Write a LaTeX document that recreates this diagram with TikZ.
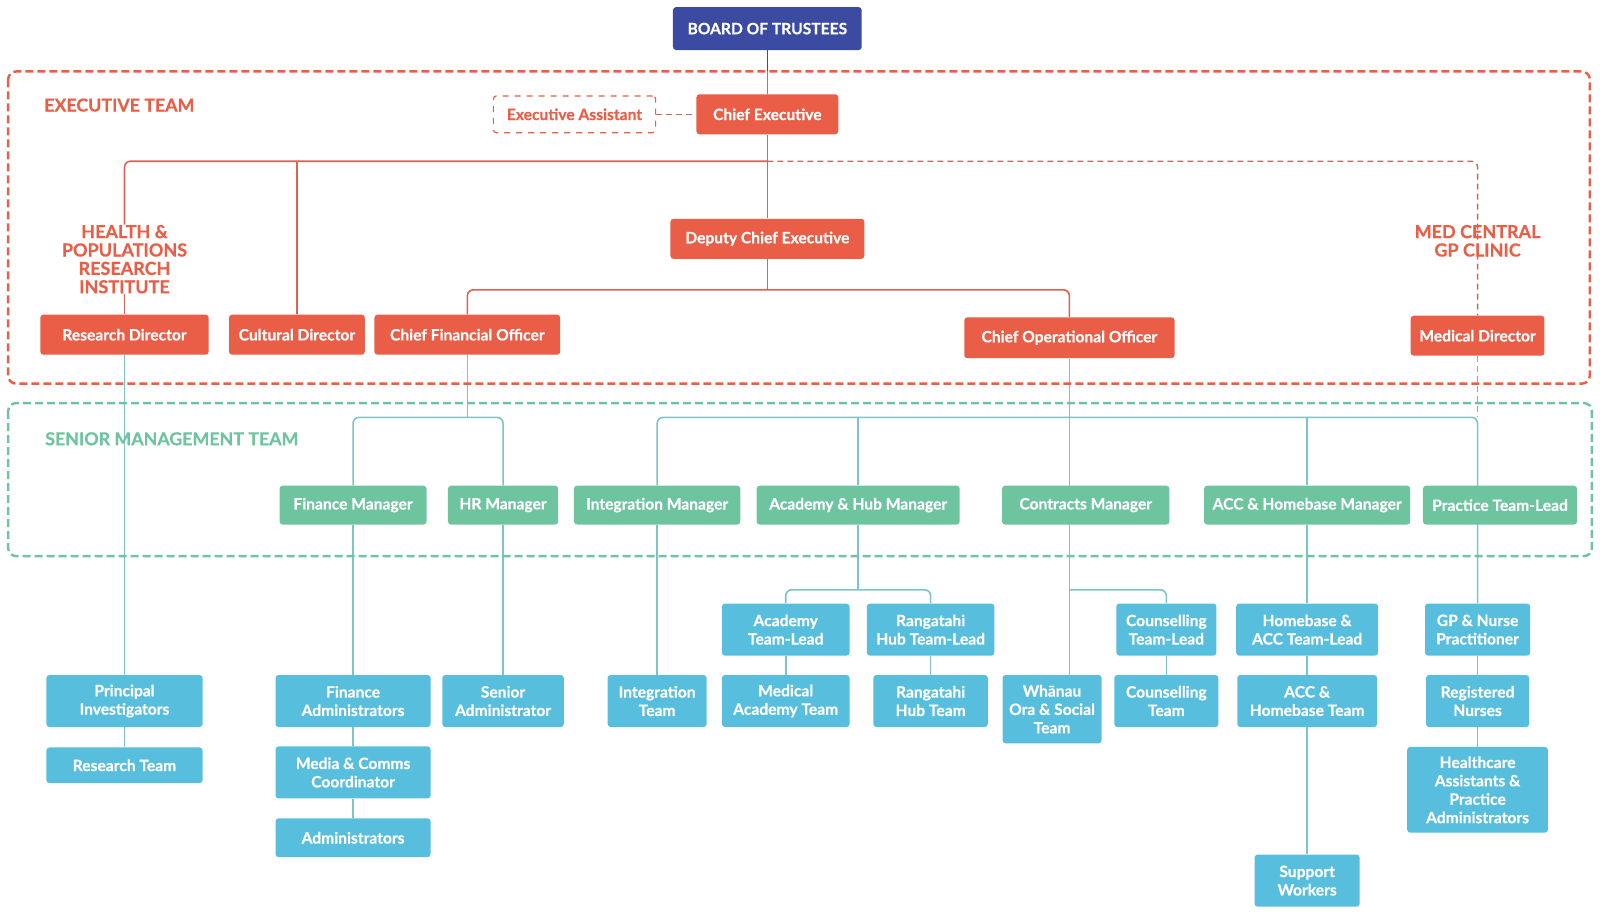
\documentclass[tikz,border=0pt]{standalone}
\usepackage{fontspec}
\setmainfont{Lato}[BoldFeatures={FakeBold=0.5}]
\usepackage{xcolor}
\usetikzlibrary{backgrounds}
\definecolor{trustblue}{HTML}{3B4BA2}
\definecolor{execred}{HTML}{EA5E47}
\definecolor{smtgreen}{HTML}{6EC49E}
\definecolor{staffblue}{HTML}{58BEDD}
\definecolor{redwire}{HTML}{DB6351}
\definecolor{tealwire}{HTML}{7CC5C4}
\tikzset{
  box/.style={rectangle, rounded corners=1.5pt, text=white, align=center,
    font=\fontsize{7.8}{9.2}\selectfont\bfseries, inner sep=0pt, minimum height=20pt},
  redbox/.style={box, fill=execred},
  greenbox/.style={box, fill=smtgreen, minimum height=19.4pt},
  bluebox/.style={box, fill=staffblue, minimum height=26pt},
  eabox/.style={box, fill=white, draw=execred, dashed, text=execred, line width=0.6pt},
  wd/.style={minimum width=#1*0.5102pt},
  ht/.style={minimum height=#1*0.5102pt},
  grouplbl/.style={font=\fontsize{8.9}{10}\selectfont\bfseries, inner sep=0pt, anchor=west},
  sitelbl/.style={font=\fontsize{9}{9.2}\selectfont\bfseries, inner sep=0pt, align=center, text=execred},
  execframe/.style={draw=execred, line width=1.2pt, dash pattern=on 4pt off 2pt, rounded corners=4pt},
  smtframe/.style={draw=smtgreen, line width=1.2pt, dash pattern=on 4pt off 2pt, rounded corners=4pt},
  execline/.style={draw=redwire, line width=0.8pt},
  tealline/.style={draw=tealwire, line width=0.8pt},
  dashline/.style={draw=redwire!80!gray, line width=0.7pt, dash pattern=on 3pt off 2pt}
}

\begin{document}
\begin{tikzpicture}[x=0.5102pt, y=-0.5102pt]
    \useasboundingbox (0,0) rectangle (1568,894);
    % group frames
    \draw[execframe] (8,70) rectangle (1558,376);
    \draw[smtframe] (8,395) rectangle (1560,545);
    \node (exlbl)[grouplbl, text=execred] at (43,103) {EXECUTIVE TEAM};
    \node (smtlbl)[grouplbl, text=smtgreen] at (44,430) {SENIOR MANAGEMENT TEAM};

    % executive team
    \node (board)[box, fill=trustblue, wd=185, ht=42] at (752,28) {BOARD OF TRUSTEES};
    \node (ea)[eabox, wd=159, ht=36] at (563,112) {Executive Assistant};
    \node (ce)[redbox, wd=139] at (752,112) {Chief Executive};
    \node (dce)[redbox, wd=190] at (752,234) {Deputy Chief Executive};
    \node (hpri)[sitelbl] at (122,254) {HEALTH \&\\POPULATIONS\\RESEARCH\\INSTITUTE};
    \node (mcgp)[sitelbl] at (1448,236) {MED CENTRAL\\GP CLINIC};
    \node (rd)[redbox, wd=165] at (122,328) {Research Director};
    \node (cd)[redbox, wd=133] at (291,328) {Cultural Director};
    \node (cfo)[redbox, wd=182] at (458,328) {Chief Financial Officer};
    \node (coo)[redbox, wd=206, ht=40] at (1048,331) {Chief Operational Officer};
    \node (md)[redbox, wd=131] at (1448,329) {Medical Director};

    % senior management team
    \node (fm)[greenbox, wd=144] at (346,495) {Finance Manager};
    \node (hrm)[greenbox, wd=108] at (493,495) {HR Manager};
    \node (im)[greenbox, wd=163] at (644,495) {Integration Manager};
    \node (ahm)[greenbox, wd=199] at (841,495) {Academy \& Hub Manager};
    \node (cm)[greenbox, wd=164] at (1064,495) {Contracts Manager};
    \node (acm)[greenbox, wd=202] at (1281,495) {ACC \& Homebase Manager};
    \node (ptl)[greenbox, wd=151] at (1470,495) {Practice Team-Lead};

    % staff
    \node (pi)[bluebox, wd=153] at (122,687) {Principal\\Investigators};
    \node (rt)[bluebox, wd=153, ht=35] at (122,750) {Research Team};
    \node (fa)[bluebox, wd=152] at (346,687) {Finance\\Administrators};
    \node (mcc)[bluebox, wd=152] at (346,757) {Media \& Comms\\Coordinator};
    \node (adm)[bluebox, wd=152, ht=38] at (346,821) {Administrators};
    \node (sa)[bluebox, wd=119] at (493,687) {Senior\\Administrator};
    \node (it)[bluebox, wd=97] at (644,687) {Integration\\Team};
    \node (atl)[bluebox, wd=125] at (770,617) {Academy\\Team-Lead};
    \node (rhtl)[bluebox, wd=125] at (912,617) {Rangatahi\\Hub Team-Lead};
    \node (mat)[bluebox, wd=125] at (770,687) {Medical\\Academy Team};
    \node (rht)[bluebox, wd=112] at (912,687) {Rangatahi\\Hub Team};
    \node (wost)[bluebox, wd=97, ht=67] at (1031,695) {Whānau\\Ora \& Social\\Team};
    \node (ctl)[bluebox, wd=98] at (1143,617) {Counselling\\Team-Lead};
    \node (ct)[bluebox, wd=102] at (1143,687) {Counselling\\Team};
    \node (hatl)[bluebox, wd=139] at (1281,617) {Homebase \&\\ACC Team-Lead};
    \node (aht)[bluebox, wd=137] at (1281,687) {ACC \&\\Homebase Team};
    \node (sw)[bluebox, wd=103] at (1281,863) {Support\\Workers};
    \node (gpnp)[bluebox, wd=103] at (1448,617) {GP \& Nurse\\Practitioner};
    \node (rn)[bluebox, wd=101] at (1448,687) {Registered\\Nurses};
    \node (hapa)[bluebox, wd=138, ht=84] at (1448,774) {Healthcare\\Assistants \&\\Practice\\Administrators};

    \coordinate (btop) at (752,70);
    \coordinate (exbar) at (752,158);
    \coordinate (dcebar) at (752,284);
    \coordinate (cfobar) at (458,409);
    \coordinate (coobar) at (1048,409);
    \coordinate (ahbar) at (841,578);
    \coordinate (cmbar) at (1048,578);

    \begin{scope}[on background layer]
    \draw[draw=trustblue, line width=0.8pt] (board.south) -- (btop);
    \draw[execline] (btop) -- (ce.north);
    \draw[execline] (ce.south) -- (dce.north);
    \draw[dashline] (ea.east) -- (ce.west);
    \draw[execline, rounded corners=3pt] (hpri.north) |- (exbar);
    \draw[execline] (hpri.south) -- (rd.north);
    \draw[execline] (cd.north) -- (cd.north |- exbar);
    \draw[dashline, rounded corners=3pt] (exbar) -| (md.north);
    \draw[dashline, draw=tealwire!70!gray] (md.south) -- (md.south |- coobar);
    \draw[execline] (dce.south) -- (dcebar);
    \draw[execline, rounded corners=3pt] (cfo.north) |- (dcebar) -| (coo.north);
    % below the executive
    \draw[tealline] (rd.south) -- (pi.north);
    \draw[tealline] (pi.south) -- (rt.north);
    \draw[tealline] (cfo.south) -- (cfobar);
    \draw[tealline, rounded corners=3pt] (fm.north) |- (cfobar) -| (hrm.north);
    \draw[tealline] (coo.south) -- (coo.south |- wost.north);
    \draw[tealline, rounded corners=3pt] (im.north) |- (coobar) -| (gpnp.north);
    \draw[tealline] (ahm.north) -- (ahm.north |- coobar);
    \draw[tealline] (acm.north) -- (acm.north |- coobar);
    \draw[tealline] (fm.south) -- (fa.north);
    \draw[tealline] (fa.south) -- (mcc.north);
    \draw[tealline] (mcc.south) -- (adm.north);
    \draw[tealline] (hrm.south) -- (sa.north);
    \draw[tealline] (im.south) -- (it.north);
    \draw[tealline] (ahm.south) -- (ahbar);
    \draw[tealline, rounded corners=3pt] (atl.north) |- (ahbar) -| (rhtl.north);
    \draw[tealline] (atl.south) -- (mat.north);
    \draw[tealline] (rhtl.south) -- (rht.north);
    \draw[tealline, rounded corners=3pt] (cmbar) -| (ctl.north);
    \draw[tealline] (ctl.south) -- (ct.north);
    \draw[tealline] (acm.south) -- (hatl.north);
    \draw[tealline] (hatl.south) -- (aht.north);
    \draw[tealline] (aht.south) -- (sw.north);
    \draw[tealline] (gpnp.south) -- (rn.north);
    \draw[tealline] (rn.south) -- (hapa.north);
    \end{scope}
\end{tikzpicture}
\end{document}
